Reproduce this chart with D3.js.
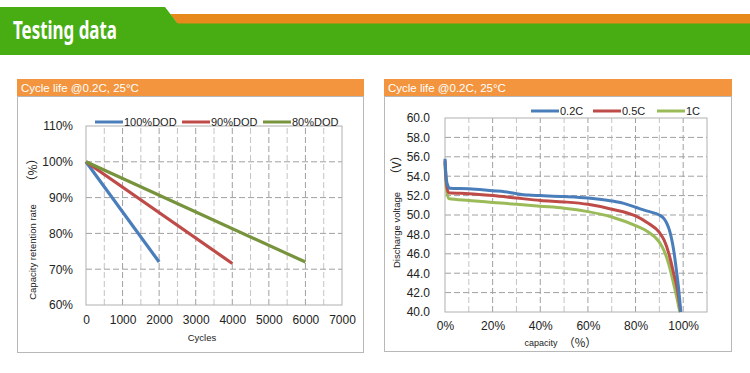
<!DOCTYPE html>
<html>
<head>
<meta charset="utf-8">
<script src="https://cdn.jsdelivr.net/npm/d3@7"></script>
<style>
    body { margin: 0; background: #fff; }
    svg { display: block; font-family: "Liberation Sans", Arial, sans-serif; }
</style>
</head>
<body>
<svg id="chart" width="750" height="373"></svg>
<script>
// ---- data: cycle life ----
const cycleSeries = ["100%DOD", "90%DOD", "80%DOD"];
const cycleColors = ["#4a7ebb", "#be4b48", "#77933c"];
const cycles100 = [[0, 100], [2000, 72]];
const cycles90 = [[0, 100], [4000, 71.6]];
const cycles80 = [[0, 100], [6000, 72]];
const cycleXTicks = [0, 1000, 2000, 3000, 4000, 5000, 6000, 7000];
const cycleYTicks = [60, 70, 80, 90, 100, 110];

// ---- data: discharge curves (capacity %, voltage) ----
const rateSeries = ["0.2C", "0.5C", "1C"];
const rateColors = ["#4a7ebb", "#be4b48", "#9bbb59"];
const discharge02 = [[0, 55.8], [0.5, 53.8], [1.2, 53.0], [2, 52.75], [10, 52.7], [20, 52.5], [25, 52.4],
    [30, 52.2], [35, 52.05], [40, 52.0], [50, 51.9], [60, 51.75], [70, 51.45], [75, 51.2], [80, 50.8],
    [85, 50.4], [88, 50.2], [90, 50.0], [92, 49.6], [93, 49.2], [94, 48.6], [95, 47.7], [96, 46.4],
    [97, 44.6], [98, 42.6], [99, 40.0]];
const discharge05 = [[0, 55.6], [0.5, 53.5], [1.5, 52.3], [10, 52.2], [20, 52.0], [30, 51.75], [40, 51.5],
    [50, 51.35], [60, 51.1], [70, 50.6], [80, 49.9], [85, 49.2], [90, 48.2], [92, 47.4], [94, 46.0],
    [96, 44.0], [97.5, 42.4], [98.9, 40.0]];
const discharge1 = [[0, 55.4], [0.5, 53.0], [1.5, 51.7], [10, 51.5], [20, 51.3], [30, 51.1], [40, 50.9],
    [50, 50.7], [60, 50.35], [70, 49.8], [80, 48.9], [85, 48.3], [90, 47.2], [92, 46.3], [94, 44.9],
    [96, 42.9], [97.5, 41.3], [98.6, 40.0]];
const rateXTicks = [0, 20, 40, 60, 80, 100];
const rateYTicks = [40, 42, 44, 46, 48, 50, 52, 54, 56, 58, 60];

const svg = d3.select("#chart");
const orange = "#f2953e";

// ---- header band ----
svg.append("rect").attr("x", 0).attr("y", 23).attr("width", 750).attr("height", 32).attr("fill", "#47ad13");
svg.append("polygon").attr("points", "170,14 750,14 750,23.5 177.5,23.5").attr("fill", "#e8891b");
svg.append("polygon").attr("points", "0,7 165,7 178,24 0,24").attr("fill", "#47ad13");
svg.append("text")
    .attr("x", 13).attr("y", 38.5)
    .attr("fill", "#fff")
    .style("font-family", "'Noto Sans', sans-serif")
    .style("font-weight", "bold")
    .style("font-size", "25px")
    .attr("textLength", 104)
    .attr("lengthAdjust", "spacingAndGlyphs")
    .text("Testing data");

function panel(x, y, w, h) {
    svg.append("rect").attr("x", x).attr("y", y).attr("width", w).attr("height", 17).attr("fill", orange);
    svg.append("text").attr("x", x + 4).attr("y", y + 12.5)
        .attr("fill", "#fff").style("font-size", "11.5px")
        .text("Cycle life @0.2C, 25°C");
    svg.append("rect").attr("x", x + 0.5).attr("y", y + 17.5).attr("width", w - 1).attr("height", h - 18)
        .attr("fill", "none").attr("stroke", "#b8b8b8");
}

function grid(g, x, y, xs, ys, majorX) {
    const [x0, x1] = x.range();
    const [y0, y1] = y.range();
    g.selectAll(".vgrid").data(xs).enter().append("line")
        .attr("x1", d => x(d)).attr("x2", d => x(d))
        .attr("y1", y0).attr("y2", y1)
        .attr("stroke", d => majorX(d) ? "#a0a0a0" : "#c4c4c4")
        .attr("stroke-dasharray", "6,3");
    g.selectAll(".hgrid").data(ys).enter().append("line")
        .attr("x1", x0).attr("x2", x1)
        .attr("y1", d => y(d)).attr("y2", d => y(d))
        .attr("stroke", "#a0a0a0")
        .attr("stroke-dasharray", "6,3");
    g.append("rect").attr("x", x0).attr("y", y1)
        .attr("width", x1 - x0).attr("height", y0 - y1)
        .attr("fill", "none").attr("stroke", "#b0b0b0");
}

function legend(g, names, colors, positions, ly) {
    names.forEach((n, i) => {
        g.append("line").attr("x1", positions[i]).attr("x2", positions[i] + 28)
            .attr("y1", ly).attr("y2", ly)
            .attr("stroke", colors[i]).attr("stroke-width", 3);
        g.append("text").attr("x", positions[i] + 29).attr("y", ly + 4)
            .style("font-size", "11px").attr("fill", "#222").text(n);
    });
}

function styleAxis(a) {
    a.select(".domain").remove();
    a.selectAll("text").style("font-size", "12px").attr("fill", "#222").style("font-family", "'Liberation Sans', Arial, sans-serif");
}

// ---- left chart ----
panel(17, 79, 347, 274);
const lx = d3.scaleLinear().domain([0, 7000]).range([86, 342]);
const ly = d3.scaleLinear().domain([60, 110]).range([305, 126]);
const left = svg.append("g");
grid(left, lx, ly, d3.range(500, 7000, 500), [70, 80, 90, 100], d => d % 1000 === 0);

left.append("g").attr("transform", "translate(0,305)")
    .call(d3.axisBottom(lx).tickValues(cycleXTicks).tickSize(0).tickPadding(10).tickFormat(d3.format("d")))
    .call(styleAxis);
left.append("g").attr("transform", "translate(86,0)")
    .call(d3.axisLeft(ly).tickValues(cycleYTicks).tickSize(0).tickPadding(13).tickFormat(d => d + "%"))
    .call(styleAxis);

const lline = d3.line().x(d => lx(d[0])).y(d => ly(d[1]));
[cycles100, cycles90, cycles80].forEach((s, i) => {
    left.append("path").datum(s).attr("d", lline)
        .attr("fill", "none").attr("stroke", cycleColors[i]).attr("stroke-width", 3.2);
});
legend(left, cycleSeries, cycleColors, [95, 182, 263], 122);

left.append("text").attr("x", 202).attr("y", 341).attr("text-anchor", "middle")
    .style("font-size", "9.5px").attr("fill", "#222").text("Cycles");
left.append("text").attr("transform", "translate(36,252) rotate(-90)").attr("text-anchor", "middle")
    .style("font-size", "9.5px").attr("fill", "#222").text("Capacity retention rate");
left.append("text").attr("transform", "translate(37,170) rotate(-90)").attr("text-anchor", "middle")
    .style("font-size", "12px").style("font-family", "'Noto Sans CJK SC', sans-serif")
    .attr("fill", "#222").text("（%）");

// ---- right chart ----
panel(384, 79, 348, 273);
const rx = d3.scaleLinear().domain([0, 110]).range([445, 707]);
const ry = d3.scaleLinear().domain([40, 60]).range([312, 118]);
const right = svg.append("g");
grid(right, rx, ry, d3.range(10, 110, 10), d3.range(42, 60, 2), d => d % 20 === 0);

right.append("g").attr("transform", "translate(0,312)")
    .call(d3.axisBottom(rx).tickValues(rateXTicks).tickSize(0).tickPadding(9.5).tickFormat(d => d + "%"))
    .call(styleAxis);
right.append("g").attr("transform", "translate(445,0)")
    .call(d3.axisLeft(ry).tickValues(rateYTicks).tickSize(0).tickPadding(15).tickFormat(d3.format(".1f")))
    .call(styleAxis);

const rline = d3.line().x(d => rx(d[0])).y(d => ry(d[1])).curve(d3.curveMonotoneX);
[discharge1, discharge05, discharge02].forEach((s, i) => {
    right.append("path").datum(s).attr("d", rline)
        .attr("fill", "none").attr("stroke", rateColors[2 - i]).attr("stroke-width", 3);
});
legend(right, rateSeries, rateColors, [531, 593, 657], 111);

right.append("text").attr("x", 541).attr("y", 346).attr("text-anchor", "middle")
    .style("font-size", "9px").attr("fill", "#222").text("capacity");
right.append("text").attr("x", 580).attr("y", 347).attr("text-anchor", "middle")
    .style("font-size", "11.5px").style("font-family", "'Noto Sans CJK SC', sans-serif")
    .attr("fill", "#222").text("（%）");
right.append("text").attr("transform", "translate(400,230) rotate(-90)").attr("text-anchor", "middle")
    .style("font-size", "9.5px").attr("fill", "#222").text("Discharge voltage");
right.append("text").attr("transform", "translate(401,165) rotate(-90)").attr("text-anchor", "middle")
    .style("font-size", "12px").style("font-family", "'Noto Sans CJK SC', sans-serif")
    .attr("fill", "#222").text("（V）");
</script>
</body>
</html>
